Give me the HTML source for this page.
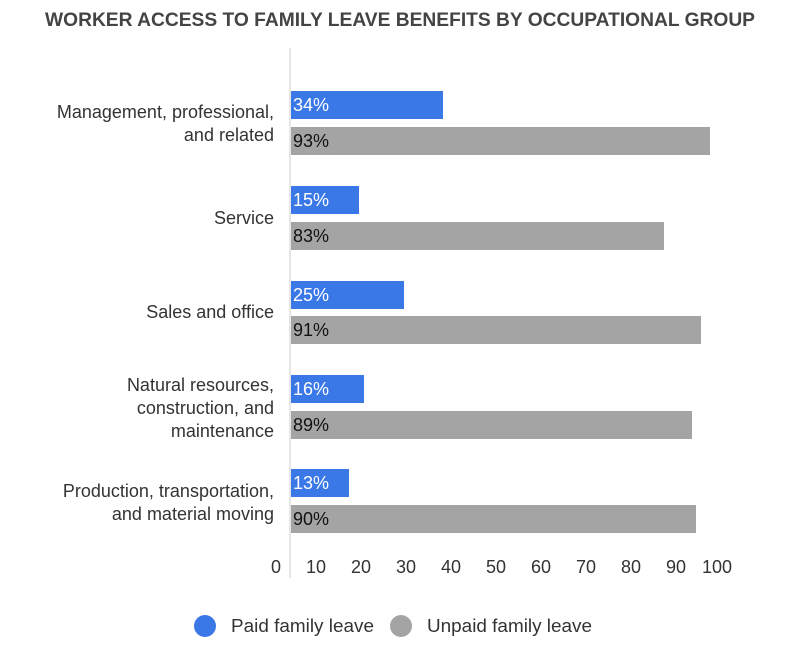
<!DOCTYPE html>
<html><head><meta charset="utf-8"><style>
html,body{margin:0;padding:0;background:#fff;}
svg{display:block;font-family:"Liberation Sans",sans-serif;}
</style></head><body>
<svg width="800" height="651" viewBox="0 0 800 651" xmlns="http://www.w3.org/2000/svg">
<text x="400" y="26" text-anchor="middle" font-size="19.2" font-weight="bold" fill="#444" textLength="710" lengthAdjust="spacingAndGlyphs">WORKER ACCESS TO FAMILY LEAVE BENEFITS BY OCCUPATIONAL GROUP</text>
<line x1="290" y1="48" x2="290" y2="578" stroke="#ccc" stroke-width="1"/>
<g fill="#3b78e7">
<rect x="291" y="91" width="152" height="28"/>
<rect x="291" y="186" width="68" height="28"/>
<rect x="291" y="281" width="113" height="28"/>
<rect x="291" y="375" width="73" height="28"/>
<rect x="291" y="469" width="58" height="28"/>
</g>
<g fill="#a4a4a4">
<rect x="291" y="127" width="419" height="28"/>
<rect x="291" y="222" width="373" height="28"/>
<rect x="291" y="316" width="410" height="28"/>
<rect x="291" y="411" width="401" height="28"/>
<rect x="291" y="505" width="405" height="28"/>
</g>
<g font-size="18" fill="#fff">
<text x="293" y="111">34%</text><text x="293" y="206">15%</text><text x="293" y="301">25%</text><text x="293" y="395">16%</text><text x="293" y="489">13%</text>
</g>
<g font-size="18" fill="#111">
<text x="293" y="147">93%</text><text x="293" y="242">83%</text><text x="293" y="336">91%</text><text x="293" y="431">89%</text><text x="293" y="525">90%</text>
</g>
<g font-size="18" fill="#333" text-anchor="end">
<text x="274" y="118">Management, professional,</text>
<text x="274" y="141">and related</text>
<text x="274" y="224">Service</text>
<text x="274" y="318">Sales and office</text>
<text x="274" y="391">Natural resources,</text>
<text x="274" y="414">construction, and</text>
<text x="274" y="437">maintenance</text>
<text x="274" y="497">Production, transportation,</text>
<text x="274" y="520">and material moving</text>
</g>
<g font-size="18" fill="#333" text-anchor="middle">
<text x="276" y="573">0</text><text x="316" y="573">10</text><text x="361" y="573">20</text><text x="406" y="573">30</text><text x="451" y="573">40</text><text x="496" y="573">50</text><text x="541" y="573">60</text><text x="586" y="573">70</text><text x="631" y="573">80</text><text x="676" y="573">90</text><text x="717" y="573">100</text>
</g>
<circle cx="205" cy="626" r="11" fill="#3b78e7"/>
<text x="231" y="632" font-size="18" fill="#333" textLength="143" lengthAdjust="spacingAndGlyphs">Paid family leave</text>
<circle cx="401" cy="626" r="11" fill="#a4a4a4"/>
<text x="427" y="632" font-size="18" fill="#333" textLength="165" lengthAdjust="spacingAndGlyphs">Unpaid family leave</text>
</svg>
</body></html>
